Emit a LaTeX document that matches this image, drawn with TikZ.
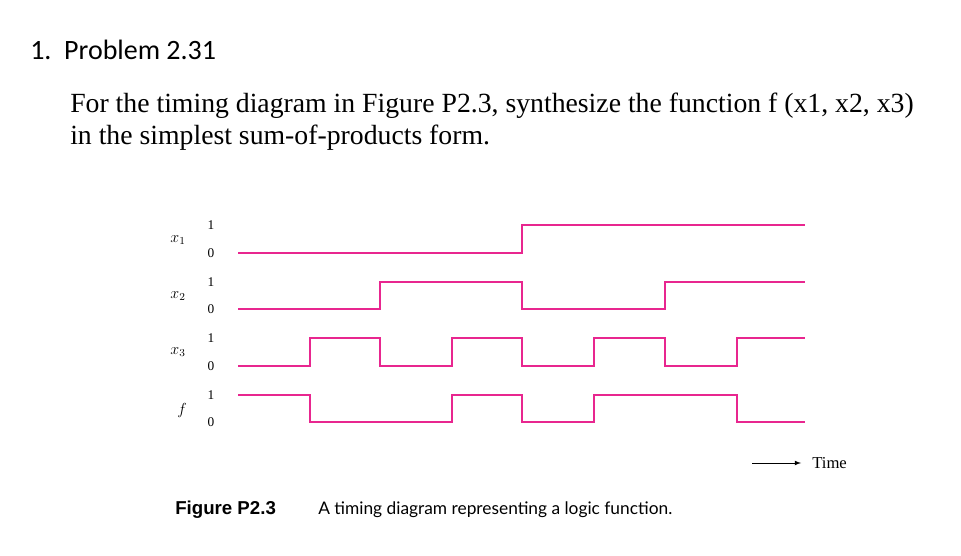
\documentclass[tikz,border=0pt]{standalone}
\usepackage{fontspec}
\setmainfont{Liberation Serif}
\newfontfamily\calfont{Carlito}
\newfontfamily\capsans{Lato}
\newfontfamily\figsans{Liberation Sans}
\definecolor{wave}{HTML}{E8268F}
\begin{document}
\begin{tikzpicture}[x=0.75pt,y=-0.75pt,
  wv/.style={draw=wave,line width=2.2pt},
  lbl/.style={inner sep=0,font=\fontsize{12}{13}\selectfont\itshape},
  lv/.style={inner sep=0,font=\fontsize{10}{11}\selectfont}]
\fill[white] (0,0) rectangle (961,556);
\useasboundingbox (0,0) rectangle (961,556);
\node[anchor=west,inner sep=0,font=\calfont\fontsize{21}{24}\selectfont] (hd) at (30,50) {1.\ \ Problem 2.31};
\node[anchor=north west,inner sep=0,align=left,font=\fontsize{20.8}{24}\selectfont] (body) at (70,93)
 {For the timing diagram in Figure P2.3, synthesize the function f (x1, x2, x3)\\in the simplest sum-of-products form.};
\node[lbl] (l1) at (178,240) {$x_1$};
\node[lbl] (l2) at (178,296) {$x_2$};
\node[lbl] (l3) at (178,352) {$x_3$};
\node[lbl] (l4) at (182,410) {$f$};
\foreach \n/\h/\l in {a/225/253,b/282/309,c/338/366,d/395/422}{
  \node[lv] (\n1) at (211,\h) {1};
  \node[lv] (\n0) at (211,\l) {0};
}
\draw[wv] (238,253) -- (522,253) -- (522,225) -- (805,225);
\draw[wv] (238,309) -- (380,309) -- (380,282) -- (522,282) -- (522,309) -- (665,309) -- (665,282) -- (805,282);
\draw[wv] (238,366) -- (310,366) -- (310,338) -- (380,338) -- (380,366) -- (452,366) -- (452,338) -- (522,338) -- (522,366) -- (594,366) -- (594,338) -- (665,338) -- (665,366) -- (737,366) -- (737,338) -- (805,338);
\draw[wv] (238,395) -- (310,395) -- (310,422) -- (452,422) -- (452,395) -- (522,395) -- (522,422) -- (594,422) -- (594,395) -- (737,395) -- (737,422) -- (805,422);
\coordinate (ts) at (752,463);
\coordinate (te) at (801,463);
\node[anchor=west,inner sep=0,font=\fontsize{12.5}{13}\selectfont] (time) at (812,463) {Time};
\draw[-latex,line width=0.6pt] (ts) -- (te);
\node[anchor=west,inner sep=0,font=\figsans\bfseries\fontsize{14}{15}\selectfont] (fig) at (175,510) {Figure P2.3};
\node[anchor=west,inner sep=0,font=\capsans\fontsize{13}{14}\selectfont] (cap) at (318,510) {A timing diagram representing a logic function.};
\end{tikzpicture}
\end{document}
